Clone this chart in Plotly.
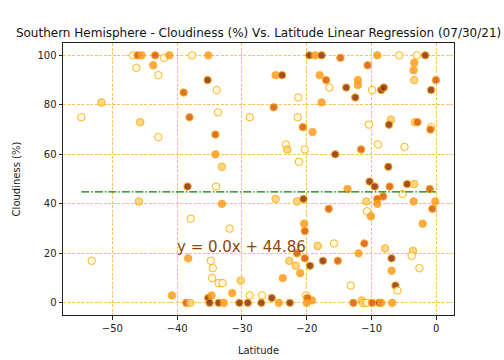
import plotly.graph_objects as go

# ---- data ----
latitude = [
    -46.8, -46.1, -45.5, -43.4, -42.0, -41.2, -37.7, -35.2, -19.6, -18.7, -17.7, -14.8, -9.1, -5.7, -3.0, -1.7,
    -46.3, -43.7, -42.9, -39.0, -51.7, -54.8, -45.7, -38.1, -42.9, -35.3, -33.9, -33.7, -28.8, -24.8, -23.8,
    -25.1, -21.3, -21.4, -20.6, -19.1, -34.1, -34.1, -33.1, -23.2, -23.0, -20.3, -21.2, -18.0, -17.0, -17.7,
    -10.6, -3.4, -3.5, -3.4, -0.05, -16.5, -13.9, -12.1, -12.1, -9.9, -8.5, -8.1, -12.5, -0.8, -7.0, -7.3,
    -10.4, -3.3, -2.9, -0.8, -0.9, -9.0, -4.9, -11.6, -15.6, -7.4,
    -10.3, -9.5, -13.7, -7.2, -4.5, -3.4, -1.0, -5.2, -8.2, -9.1, -10.8, -9.1, -3.5, -0.15, -0.6, -16.6,
    -10.7, -10.1, -2.1, -18.3, -15.8, -11.1, -12.0, -7.9, -3.6, -3.8, -6.9, -17.5, -15.2, -19.5, -2.6, -6.9,
    -13.2, -6.3, -6.0, -19.2, -11.5,
    -38.4, -45.9, -37.9, -53.2, -38.3, -40.8, -34.0, -33.1, -31.9, -24.8, -21.5, -20.5, -20.4, -20.3, -21.5,
    -20.3, -22.7, -21.7, -21.0, -23.7, -34.8, -34.5, -34.6, -33.6, -33.0, -30.2, -31.5, -28.8, -26.9, -25.4,
    -20.1, -19.9, -35.2, -34.7,
    -38.6, -38.0, -35.0, -33.6, -32.8, -30.4, -29.1, -27.0, -24.3, -22.6, -20.0, -12.8, -11.3, -10.7, -9.9,
    -8.8, -8.5, -6.8,
]
cloudiness = [
    100, 100, 100, 100, 99, 100, 100, 100, 100, 100, 100, 99, 100, 100, 100, 100,
    95, 96, 92, 85, 81, 75, 73, 75, 67, 90, 86, 77, 75, 92, 92,
    79, 83, 75, 71, 69, 68, 60, 55, 64, 62, 62, 57, 92, 90, 81,
    96, 97, 94, 90, 90, 87, 87, 90, 88, 86, 86, 87, 83, 86, 74, 72,
    72, 73, 73, 71, 70, 64, 63, 62, 60, 55,
    49, 47, 46, 47, 48, 48, 46, 44, 43, 42, 41, 40, 41, 41, 38, 38,
    37, 35, 32, 23, 24, 24, 20, 22, 21, 19, 18, 17, 17, 15, 14, 13,
    7, 7, 5, 1, 1,
    47, 41, 34, 17, 18, 3, 47, 40, 30, 42, 41, 42, 32, 29, 20,
    18, 17, 15, 12, 10, 17, 14, 10, 8, 8, 9, 4, 3, 3, 2,
    3, 2, 2, 3,
    0, 0, 0, 0, 0, 0, 0, 0, 0, 0, 0, 0, 0, 0, 0,
    0, 0, 0,
]
marker_shade = [
    3, 70, 50, 70, 3, 50, 3, 50, 90, 50, 90, 70, 50, 3, 3, 90,
    3, 50, 3, 70, 32, 3, 32, 70, 3, 90, 3, 3, 3, 50, 90,
    70, 3, 3, 70, 50, 70, 50, 32, 3, 32, 3, 3, 50, 70, 50,
    70, 50, 50, 32, 70, 3, 90, 50, 50, 3, 90, 90, 90, 90, 32, 90,
    3, 32, 70, 3, 70, 3, 3, 70, 90, 90,
    90, 90, 50, 70, 90, 32, 70, 3, 70, 70, 32, 50, 50, 50, 70, 70,
    3, 50, 50, 32, 3, 70, 50, 32, 32, 3, 90, 90, 70, 90, 3, 50,
    3, 90, 3, 50, 32,
    90, 32, 3, 3, 50, 50, 3, 50, 3, 32, 32, 90, 50, 70, 70,
    70, 32, 32, 50, 50, 3, 3, 3, 3, 3, 32, 50, 3, 3, 90,
    3, 70, 90, 50,
    70, 32, 90, 90, 50, 90, 90, 90, 50, 90, 50, 70, 32, 3, 70,
    90, 50, 50,
]
reg_slope = 0.0
reg_intercept = 44.86
reg_label = "y = 0.0x + 44.86"
x_ticks = [-50, -40, -30, -20, -10, 0]
y_ticks = [0, 20, 40, 60, 80, 100]

title = "Southern Hemisphere - Cloudiness (%) Vs. Latitude Linear Regression (07/30/21)"

fig = go.Figure()
fig.add_trace(go.Scatter(
    x=latitude, y=cloudiness, mode="markers",
    marker=dict(size=7.5, color=marker_shade, colorscale="YlOrBr", cmin=0, cmax=100,
                opacity=0.85, line=dict(color="orange", width=1)),
    showlegend=False, hoverinfo="x+y",
))
x_line = [min(latitude), max(latitude)]
fig.add_trace(go.Scatter(
    x=x_line, y=[reg_slope * v + reg_intercept for v in x_line], mode="lines",
    line=dict(color="green", width=1.3, dash="8px,2px,1.5px,2px"), showlegend=False,
))
fig.add_annotation(x=-40, y=20, xref="x", yref="y", text=reg_label, showarrow=False,
                   xanchor="left", yanchor="bottom", xshift=-2, yshift=-5,
                   font=dict(family="DejaVu Sans", size=15, color="#8B4513"))

axis_common = dict(
    showline=True, mirror=True, linecolor="#222", linewidth=1,
    ticks="outside", ticklen=3.5, tickwidth=0.8, tickcolor="#222",
    showgrid=True, gridcolor="rgba(250,175,40,0.75)", griddash="3px,1.5px", gridwidth=0.8,
    zeroline=False, automargin=False,
    tickfont=dict(family="DejaVu Sans", size=10, color="#222"),
)
fig.update_xaxes(range=[-57.63, 2.74], tickvals=x_ticks, **axis_common,
                 title=dict(text="Latitude", font=dict(family="DejaVu Sans", size=10, color="#222"), standoff=14))
fig.update_yaxes(range=[-4.9, 105], tickvals=y_ticks, **axis_common,
                 title=dict(text="Cloudiness (%)", font=dict(family="DejaVu Sans", size=10, color="#222"), standoff=14))

fig.update_layout(
    width=504, height=360,
    margin=dict(l=63, r=50, t=43, b=45),
    paper_bgcolor="white", plot_bgcolor="white",
    title=dict(text=title, x=0.513, xanchor="center", y=1 - 33 / 360, yanchor="middle",
               xref="container", yref="container",
               font=dict(family="DejaVu Sans", size=12, color="#111")),
)
fig.write_html("out.html", config={"displayModeBar": False},
               post_script="document.body.style.margin='0';document.body.style.overflow='hidden';")
